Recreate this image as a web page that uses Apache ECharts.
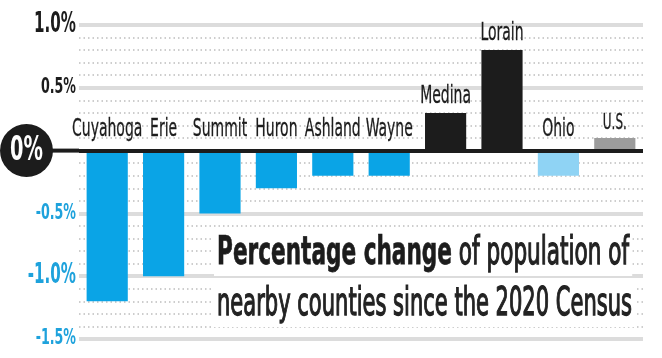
<!DOCTYPE html>
<html>
<head>
<meta charset="utf-8">
<script src="https://cdn.jsdelivr.net/npm/echarts@6/dist/echarts.min.js"></script>
<style>
html,body{margin:0;padding:0;background:#fff;}
#chart{width:662px;height:358px;}
</style>
</head>
<body>
<div id="chart"></div>
<script>
// ---- data ----
const categories = ['Cuyahoga', 'Erie', 'Summit', 'Huron', 'Ashland', 'Wayne', 'Medina', 'Lorain', 'Ohio', 'U.S.'];
const changes = [-1.2, -1.0, -0.5, -0.3, -0.2, -0.2, 0.3, 0.8, -0.2, 0.1];
const groups = ['county', 'county', 'county', 'county', 'county', 'county', 'county', 'county', 'state', 'nation'];
const yTicks = [-1.5, -1.0, -0.5, 0, 0.5, 1.0];
const yTickLabels = ['-1.5%', '-1.0%', '-0.5%', '0%', '0.5%', '1.0%'];
const titleLine1Bold = 'Percentage change';
const titleLine1Rest = ' of population of';
const titleLine2 = 'nearby counties since the 2020 Census';

// ---- styles ----
const FONT_NAME = 'DejaVu Sans Condensed';
const FONT = "'DejaVu Sans Condensed', 'DejaVu Sans', sans-serif";
const BLACK = '#1c1c1c';
const BLUE = '#0aa4e6';
const BLUE_TXT = '#1ea2dc';
function barColor(i) {
  if (groups[i] === 'state') return '#8fd3f4';
  if (groups[i] === 'nation') return '#9c9c9c';
  return changes[i] < 0 ? BLUE : BLACK;
}
const measureCtx = document.createElement('canvas').getContext('2d');
function measure(text, weight, size) {
  measureCtx.font = weight + ' ' + size + 'px "' + FONT_NAME + '"';
  return measureCtx.measureText(text).width;
}
const TITLE_SIZE = 31;
const line1W = measure(titleLine1Bold, 'bold', TITLE_SIZE) + measure(titleLine1Rest, 'normal', TITLE_SIZE);
const line2W = measure(titleLine2, 'normal', TITLE_SIZE);
const title1ScaleX = 412 / line1W;
const title2ScaleX = 415 / line2W;

const chart = echarts.init(document.getElementById('chart'), null, {renderer: 'canvas'});

const option = {
  animation: false,
  backgroundColor: '#fff',
  grid: {left: 79, right: 19, top: 25, bottom: 19, containLabel: false},
  xAxis: {
    type: 'category',
    data: categories,
    axisLine: {show: false},
    axisTick: {show: false},
    axisLabel: {show: false},
    splitLine: {show: false}
  },
  yAxis: {
    type: 'value',
    min: -1.5,
    max: 1.0,
    interval: 0.5,
    axisLine: {show: false},
    axisTick: {show: false},
    axisLabel: {show: false},
    splitLine: {show: true, lineStyle: {color: '#dcdcdc', width: 4}},
    minorTick: {show: false, splitNumber: 5},
    minorSplitLine: {show: true, lineStyle: {color: '#bdbdbd', width: 1.5, type: [1.5, 3]}}
  },
  series: [
    {
      type: 'bar',
      barCategoryGap: '27%',
      z: 2,
      data: changes.map((v, i) => ({value: v, itemStyle: {color: barColor(i)}})),
      markLine: {
        silent: true,
        symbol: ['none', 'none'],
        label: {show: false},
        lineStyle: {color: BLACK, width: 4, type: 'solid'},
        data: [{yAxis: 0}]
      }
    },
    // category labels, placed above each bar (or above the zero line for falling bars)
    {
      type: 'custom',
      z: 5,
      clip: false,
      silent: true,
      data: changes.map((v, i) => [i, v]),
      renderItem: function (params, api) {
        const i = api.value(0);
        const v = api.value(1);
        const pt = api.coord([i, Math.max(0, v)]);
        const small = groups[params.dataIndex] === 'nation';
        return {
          type: 'text',
          x: pt[0],
          y: pt[1] - (v >= 0 ? 4 : 9),
          scaleX: 0.74,
          scaleY: 1.15,
          style: {
            text: categories[params.dataIndex],
            fontFamily: FONT,
            fontSize: small ? 18 : 21,
            fill: BLACK,
            stroke: BLACK,
            lineWidth: 0.25,
            align: 'center',
            verticalAlign: 'bottom'
          }
        };
      }
    },
    // y tick labels (and the 0% badge)
    {
      type: 'custom',
      z: 6,
      clip: false,
      silent: true,
      data: yTicks.map((t, i) => [0, t]),
      renderItem: function (params, api) {
        const t = api.value(1);
        const y = api.coord([0, t])[1];
        const left = params.coordSys.x;
        const label = yTickLabels[params.dataIndex];
        if (Math.abs(t) < 1e-9) {
          return {
            type: 'group',
            children: [
              {type: 'line', shape: {x1: left - 30, y1: y, x2: left, y2: y},
               style: {stroke: BLACK, lineWidth: 4}},
              {type: 'circle', shape: {cx: left - 52.5, cy: y, r: 26.5}, style: {fill: BLACK}},
              {type: 'text', x: left - 52.5, y: y + 1, scaleX: 0.83, scaleY: 1.3,
               style: {text: label, fontFamily: FONT, fontWeight: 'bold', fontSize: 26,
                       fill: '#fff', align: 'center', verticalAlign: 'middle'}}
            ]
          };
        }
        const big = Math.abs(Math.abs(t) - 1) < 1e-9;
        return {
          type: 'text',
          x: left - 3,
          y: y,
          scaleX: big ? 0.7 : 0.74,
          scaleY: big ? 1.15 : 1.1,
          style: {
            text: label,
            fontFamily: FONT,
            fontWeight: 'bold',
            fontSize: big ? 24 : 19,
            fill: t < 0 ? BLUE_TXT : BLACK,
            align: 'right',
            verticalAlign: 'middle'
          }
        };
      }
    }
  ],
  graphic: [
    {
      type: 'text',
      x: 214,
      y: 254,
      scaleX: title1ScaleX,
      scaleY: 1.25,
      z: 10,
      style: {
        text: '{b|' + titleLine1Bold + '}{r|' + titleLine1Rest + '}',
        verticalAlign: 'middle',
        align: 'left',
        backgroundColor: '#fff',
        padding: [2, 4, 2, 4],
        rich: {
          b: {fontFamily: FONT, fontSize: TITLE_SIZE, fontWeight: 'bold', fill: BLACK,
              stroke: BLACK, lineWidth: 0.6},
          r: {fontFamily: FONT, fontSize: TITLE_SIZE, fontWeight: 'normal', fill: '#222',
              stroke: '#222', lineWidth: 1}
        }
      }
    },
    {
      type: 'text',
      x: 214,
      y: 305,
      scaleX: title2ScaleX,
      scaleY: 1.25,
      z: 10,
      style: {
        text: titleLine2,
        fontFamily: FONT,
        fontSize: TITLE_SIZE,
        fill: '#222',
        stroke: '#222',
        lineWidth: 1,
        verticalAlign: 'middle',
        align: 'left',
        backgroundColor: '#fff',
        padding: [2, 4, 2, 4]
      }
    }
  ]
};
chart.setOption(option);
</script>
</body>
</html>
